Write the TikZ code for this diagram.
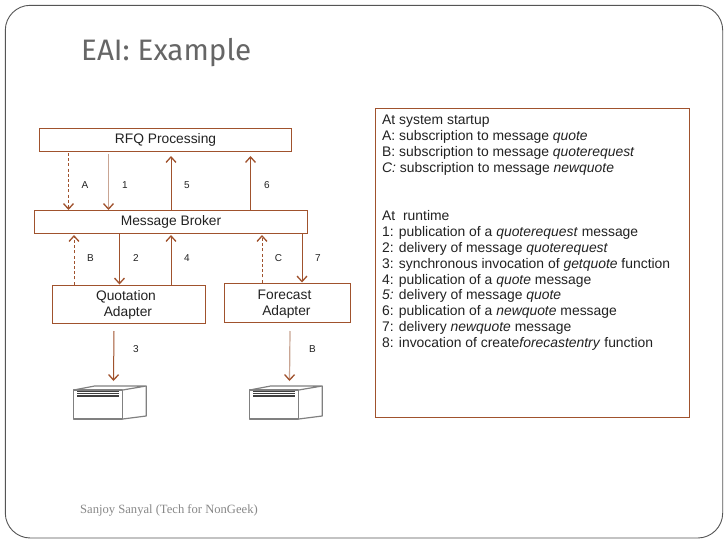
\documentclass[tikz,border=0pt]{standalone}
\usepackage{fontspec}
\setmainfont{Liberation Sans}
\newfontfamily\titlefont{Fira Sans}
\newfontfamily\footfont{Liberation Serif}
\usetikzlibrary{arrows.meta}
\definecolor{rust}{HTML}{A0522D}
\definecolor{rustpale}{HTML}{C9A593}
\definecolor{inkgray}{HTML}{222222}
\definecolor{frameline}{HTML}{555555}
\definecolor{titlegray}{HTML}{666666}
\definecolor{footgray}{HTML}{888888}
\definecolor{servgray}{HTML}{808080}
\tikzset{
  x=1pt,y=-1pt,
  boxnode/.style={draw=rust,line width=1pt,inner sep=0pt,anchor=north west,align=center,font=\fontsize{13.8}{16}\selectfont,text=inkgray},
  conn/.style={draw=rust,line width=1pt,-{Straight Barb[length=5.5pt,width=10pt,line width=1.3pt]}},
  connpale/.style={conn,draw=rustpale,line width=1.2pt,-{Straight Barb[length=5.5pt,width=10pt,line width=1.3pt,color=rust]}},
  connd/.style={conn,dashed,dash pattern=on 3pt off 2.2pt},
  tag/.style={font=\fontsize{10}{11}\selectfont,text=inkgray,inner sep=0pt},
  servedge/.style={draw=servgray,line width=1.2pt,line join=round},
  servslot/.style={draw=black!75,line width=1.5pt},
}
\newcommand{\serverat}[2]{%
  \begin{scope}[shift={(#1,#2)}]
    \draw[servedge] (0,0) rectangle (49,29);
    \draw[servedge] (0,0) -- (21,-4) -- (72.5,-4) -- (49,0);
    \draw[servedge] (72.5,-4) -- (72.5,26) -- (49,29);
    \draw[servslot] (3.5,1.6) -- (45.5,1.6);
    \draw[servslot] (3.5,3.7) -- (45.5,3.7);
    \draw[servslot] (3.5,5.8) -- (45.5,5.8);
  \end{scope}}
\begin{document}
\begin{tikzpicture}
\useasboundingbox (0,0) rectangle (728,546);
\fill[white] (0,0) rectangle (728,546);
\draw[frameline,line width=0.9pt,rounded corners=25pt] (5.3,5.3) rectangle (722.7,538);
\node[anchor=base west,inner sep=0pt,text=titlegray,font=\titlefont\fontsize{29.6}{34}\selectfont] (title) at (81,60) {EAI: Example};
\node[anchor=base west,inner sep=0pt,text=footgray,font=\footfont\fontsize{12.6}{15}\selectfont] (foot) at (80,513) {Sanjoy Sanyal (Tech for NonGeek)};

\node[boxnode,minimum width=252pt,minimum height=23pt] (rfq) at (39,128) {RFQ Processing};
\node[boxnode,minimum width=273pt,minimum height=23pt] (broker) at (34,210) {Message Broker};
\node[boxnode,minimum width=153pt,minimum height=38.5pt] (quot) at (51.5,284.5) {};
\node[boxnode,minimum width=125.5pt,minimum height=39.5pt] (fore) at (224,282.5) {};
\node[inner sep=0pt,align=center,text=inkgray,font=\fontsize{13.8}{16}\selectfont] (quottext) at (126,305) {Quotation\\\ Adapter};
\node[inner sep=0pt,align=center,text=inkgray,font=\fontsize{13.8}{16}\selectfont] (foretext) at (284.5,304) {Forecast\\\ Adapter};
\node[boxnode,minimum width=314pt,minimum height=309pt] (notes) at (375,108) {};
\node[anchor=north west,inner sep=0pt,align=left,text=inkgray,font=\fontsize{13.9}{15.93}\selectfont] (notestext) at (382,115) {%
At system startup\\
A: subscription to message \textit{quote}\\
B: subscription to message \textit{quoterequest}\\
\textit{C:} subscription to message \textit{newquote}\\
\mbox{}\\
\mbox{}\\
At\ \ runtime\\
1: publication of a \textit{quoterequest} message\\
2: delivery of message \textit{quoterequest}\\
3: synchronous invocation of \textit{getquote} function\\
4: publication of a \textit{quote} message\\
\textit{5:} delivery of message \textit{quote}\\
6: publication of a \textit{newquote} message\\
7: delivery \textit{newquote} message\\
8: invocation of create\textit{forecastentry} function};

% connectors (offsets from each box's centre line)
\draw[connd] ([xshift=-97pt,yshift=-1pt]rfq.south) -- ([xshift=-102.5pt]broker.north);
\draw[connpale] ([xshift=-57pt,yshift=-2pt]rfq.south) -- ([xshift=-62.5pt]broker.north);
\draw[conn] ([xshift=0pt]broker.north) -- ([xshift=5.5pt,yshift=-4pt]rfq.south);
\draw[conn] ([xshift=79.5pt]broker.north) -- ([xshift=85pt,yshift=-4pt]rfq.south);
\draw[connd] ([xshift=-54.5pt]quot.north) -- ([xshift=-97pt,yshift=-1pt]broker.south);
\draw[conn] ([xshift=-51.5pt]broker.south) -- ([xshift=-9pt]quot.north);
\draw[conn] ([xshift=42.5pt]quot.north) -- ([xshift=0pt,yshift=-1pt]broker.south);
\draw[connd] ([xshift=-25.25pt]fore.north) -- ([xshift=91pt,yshift=-1pt]broker.south);
\draw[conn] ([xshift=131pt]broker.south) -- ([xshift=14.75pt]fore.north);

\coordinate (servA) at (113.5,381);
\coordinate (servB) at (289.5,381);
\draw[conn] ([xshift=-14.5pt,yshift=-7pt]quot.south) -- (servA);
\draw[connpale] ([xshift=2.75pt,yshift=-8pt]fore.south) -- (servB);
\serverat{73.7}{390}
\serverat{249.7}{390}

\node[tag] (tA) at (85,185) {A};
\node[tag] (t1) at (125,185) {1};
\node[tag] (t5) at (187,185) {5};
\node[tag] (t6) at (267,185) {6};
\node[tag] (tB) at (90.5,258) {B};
\node[tag] (t2) at (136,258) {2};
\node[tag] (t4) at (187,258) {4};
\node[tag] (tC) at (278.5,258) {C};
\node[tag] (t7) at (318,258) {7};
\node[tag] (t3) at (136,349) {3};
\node[tag] (tB2) at (312.5,349) {B};
\end{tikzpicture}
\end{document}
